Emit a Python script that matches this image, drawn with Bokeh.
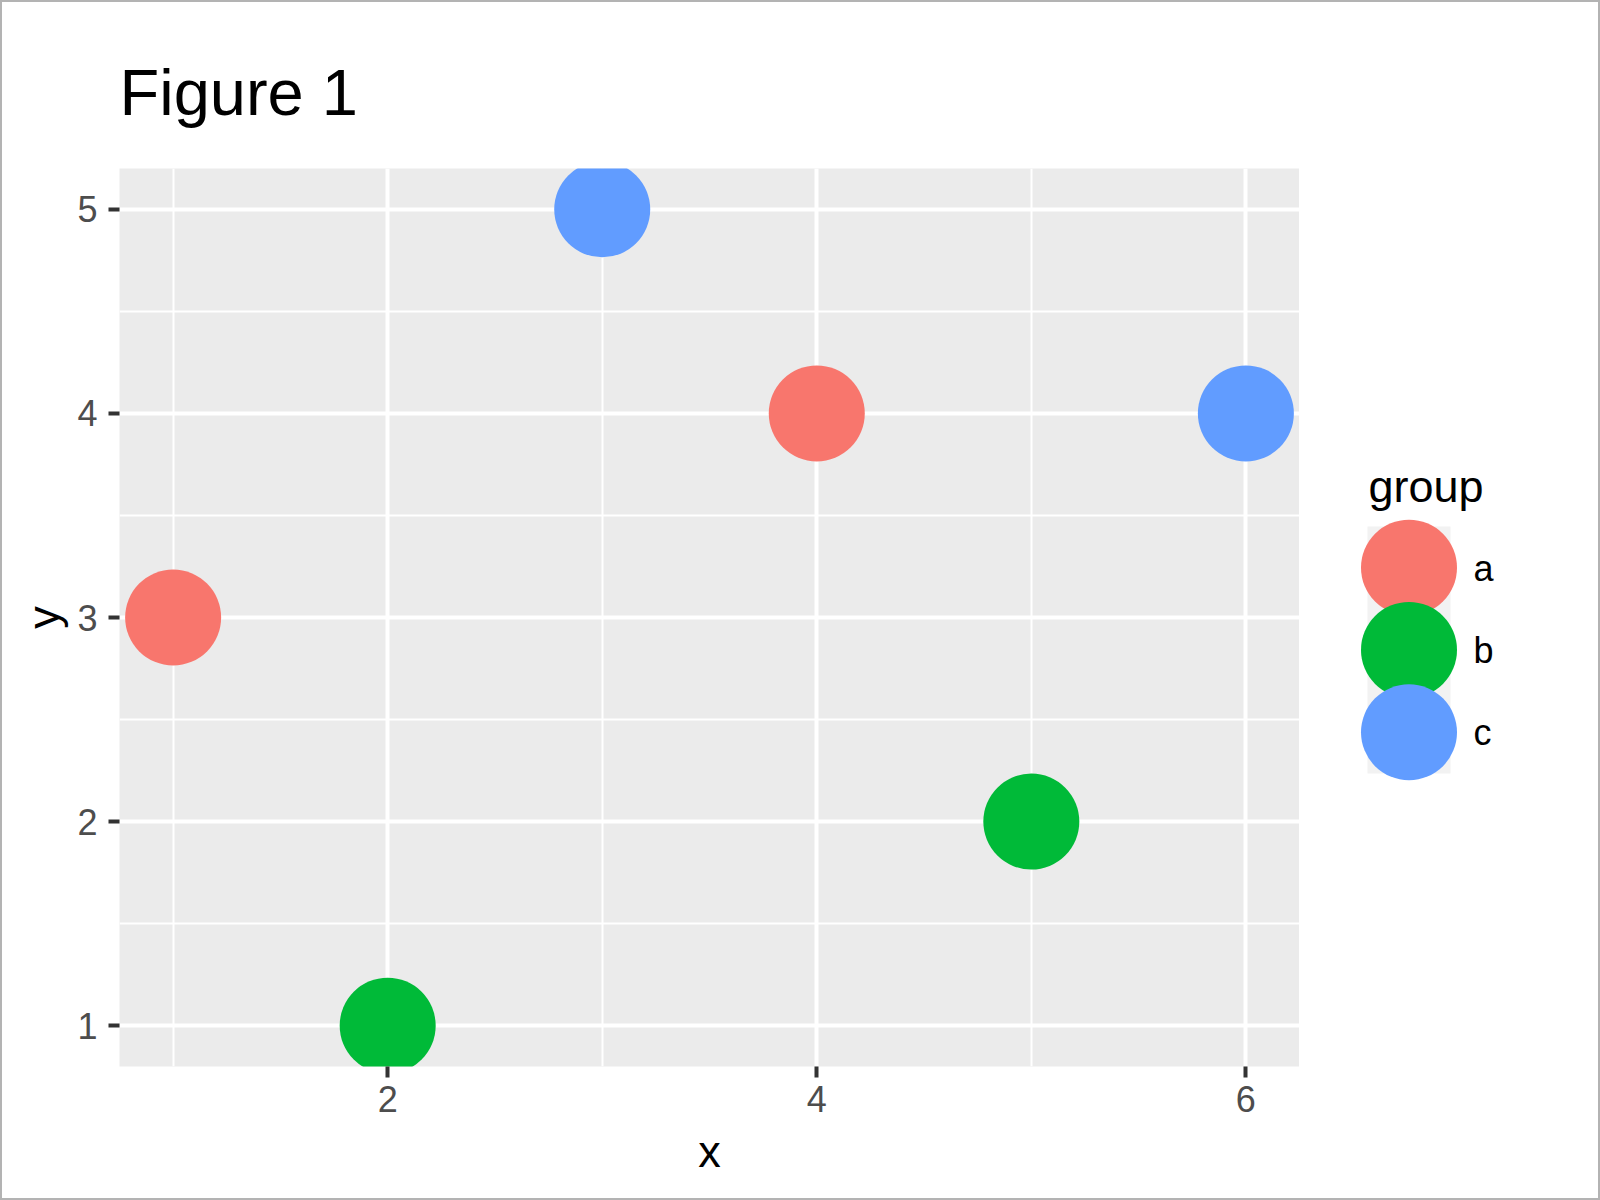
from bokeh.plotting import figure
from bokeh.models import Range1d, FixedTicker, ColumnDataSource
from bokeh.layouts import row
from bokeh.transform import factor_cmap
from bokeh.embed import file_html
from bokeh.resources import INLINE
from bokeh.core.properties import value

# ---- data ----
x = [1, 2, 3, 4, 5, 6]
y = [3, 1, 5, 4, 2, 4]
group = ["a", "b", "c", "a", "b", "c"]
groups = ["a", "b", "c"]
colors = ["#F8766D", "#00BA38", "#619CFF"]
x_ticks = [2, 4, 6]
x_minor = [1, 3, 5]
y_ticks = [1, 2, 3, 4, 5]
y_minor = [1.5, 2.5, 3.5, 4.5]
title_text = "Figure 1"
x_label = "x"
y_label = "y"
legend_title = "group"

FONT = "Liberation Sans"

src = ColumnDataSource(dict(x=x, y=y, group=group))

p = figure(width=1297, height=1196,
           x_range=Range1d(0.75, 6.25), y_range=Range1d(0.8, 5.2),
           output_backend="svg", toolbar_location=None,
           min_border_left=117, min_border_right=0,
           min_border_top=166, min_border_bottom=132,
           background_fill_color="#EBEBEB", border_fill_color="white",
           outline_line_color=None)

p.title.text = title_text
p.title.text_font = FONT
p.title.text_font_size = "65px"
p.title.text_font_style = "normal"
p.title.text_color = "black"
p.title.align = "left"
p.title.standoff = 80

p.scatter("x", "y", source=src, size=96, line_color=None,
          fill_color=factor_cmap("group", palette=colors, factors=groups))

p.xaxis.ticker = FixedTicker(ticks=x_ticks, minor_ticks=x_minor)
p.yaxis.ticker = FixedTicker(ticks=y_ticks, minor_ticks=y_minor)
p.xaxis.axis_label = x_label
p.yaxis.axis_label = y_label

for ax in (p.xaxis, p.yaxis):
    ax.axis_line_color = None
    ax.major_tick_line_color = "#333333"
    ax.major_tick_line_width = 4
    ax.major_tick_out = 11
    ax.major_tick_in = 0
    ax.minor_tick_line_color = None
    ax.major_label_text_font = FONT
    ax.major_label_text_font_size = "36px"
    ax.major_label_text_color = "#4D4D4D"
    ax.axis_label_text_font = FONT
    ax.axis_label_text_font_size = "45px"
    ax.axis_label_text_font_style = "normal"
    ax.axis_label_text_color = "black"

p.xaxis.major_label_standoff = 8
p.xaxis.axis_label_standoff = 11
p.yaxis.major_label_standoff = 11
p.yaxis.axis_label_standoff = 5

for g in (p.xgrid, p.ygrid):
    g.grid_line_color = "white"
    g.grid_line_width = 4
    g.minor_grid_line_color = "white"
    g.minor_grid_line_width = 2

# ---- legend panel (frame is aligned with the main frame: y 168..1066) ----
leg = figure(width=299, height=1196,
             x_range=Range1d(1299, 1598), y_range=Range1d(1066, 168),
             output_backend="svg", toolbar_location=None,
             min_border=0, x_axis_location=None, y_axis_location=None,
             background_fill_color="white", border_fill_color="white",
             outline_line_color=None)
leg.xgrid.visible = False
leg.ygrid.visible = False

key_left = 1367
key_w = 83
key_top = 526
key_h = 82.3
n = len(groups)
leg.quad(left=key_left, right=key_left + key_w, top=key_top,
         bottom=key_top + key_h * n, fill_color="#F2F2F2", line_color=None)

cy = [key_top + key_h * (i + 0.5) for i in range(n)]
lsrc = ColumnDataSource(dict(x=[key_left + key_w / 2] * n, y=cy,
                             tx=[1473] * n, ty=[c + 0.7 for c in cy],
                             label=groups, color=colors))
leg.scatter("x", "y", source=lsrc, size=96, fill_color="color", line_color=None)
leg.text("tx", "ty", text="label", source=lsrc, text_font=value(FONT),
         text_font_size="36px", text_color="black", text_baseline="alphabetic")
leg.text(x=[1368], y=[486], text=[legend_title], text_font=value(FONT),
         text_font_size="45px", text_color="black", text_baseline="alphabetic")

layout = row(p, leg, styles={"border": "2px solid #b3b3b3"})

open("out.html", "w").write(file_html(layout, INLINE))
